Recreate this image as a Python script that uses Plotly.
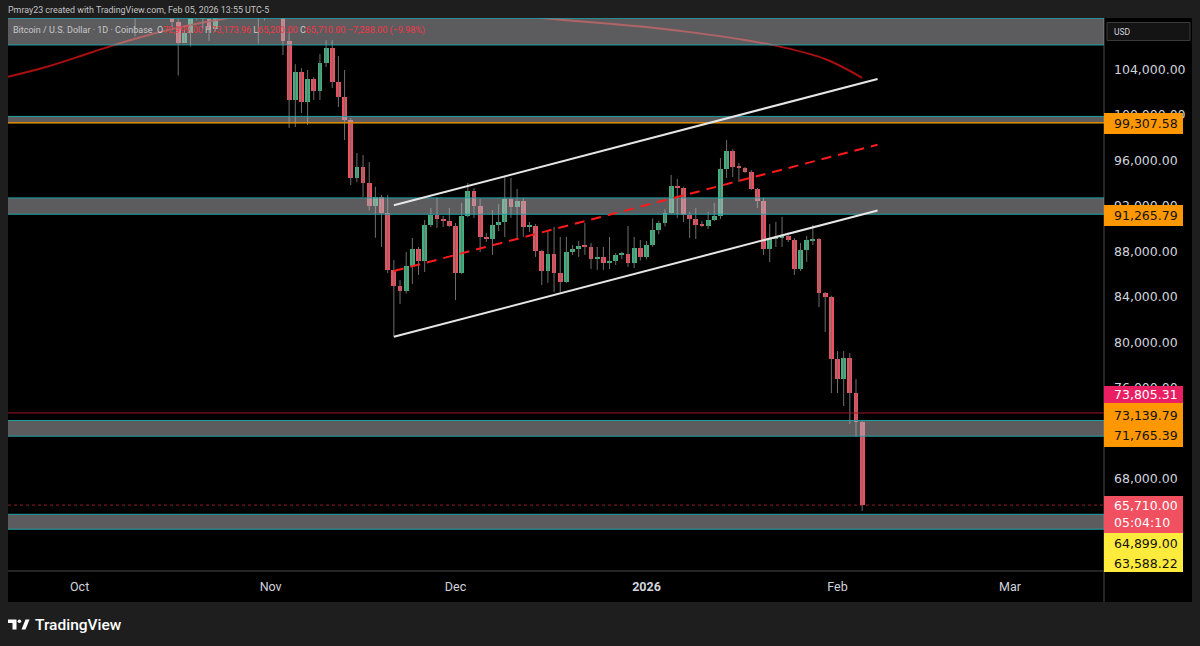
import plotly.graph_objects as go
import pandas as pd

# ---------------- data ----------------
start_date = "2025-10-10"
end_date = "2026-02-05"

opens = [121700, 112800, 110700, 115100, 115300, 113000, 110800, 108150, 106350, 107150, 108650, 110550, 108450, 107550, 110050, 111000, 111600, 114500, 114100, 112900, 110000, 108600,
         109600, 110100, 110600, 106500, 101300, 103790, 101150, 103150, 102090, 104550, 105870, 102880, 101560, 99540, 94450, 95410, 94010, 91990, 92780, 91370, 86360, 84950, 84510, 86720, 88210, 87160, 90320, 91200, 90850, 90670,
         90230, 86100, 91110, 93310, 91990, 89270, 89090, 90320, 90590, 92610, 91900, 92430, 90150, 90230, 88030, 86280, 87770, 86100, 85310, 87950, 88210, 88470, 88390, 87330, 87510, 86980, 87160, 87690, 87790, 86980, 88300,
         87550, 88600, 89900, 90500, 91400, 93760, 93590, 91220, 90850, 90410, 90230, 90760, 91110, 95240, 96820, 95500, 95330, 94980, 93490, 92430, 88210, 89170, 89260, 89350, 89000, 86450, 88120, 89000, 89090, 84340, 83990,
         78540, 76780, 78630, 75550, 72999]
highs = [122500, 113400, 115900, 116000, 115500, 113600, 111700, 109200, 107500, 109400, 111700, 114000, 109000, 111000, 112000, 111900, 115000, 116300, 116100, 113600, 111600, 110000,
         110500, 111200, 110800, 107300, 104450, 104100, 103940, 103320, 105340, 106570, 106570, 105170, 103940, 99710, 96640, 96470, 95850, 93680, 92960, 92960, 87240, 85480, 87950, 89180, 88390, 90760, 91810, 92780, 91110, 91810,
         90500, 92250, 94010, 93570, 92600, 89600, 91640, 92170, 94540, 94450, 93480, 92690, 90590, 90410, 88150, 89800, 90150, 89270, 89270, 88560, 88910, 90500, 88740, 88390, 88390, 89270, 87860, 87950, 90230, 89270, 89000,
         88900, 90900, 90700, 91700, 94720, 94370, 93680, 91480, 91810, 90670, 91480, 92250, 96200, 97790, 96990, 95760, 95410, 95150, 93570, 92690, 90410, 90590, 91040, 89650, 89170, 88740, 89350, 90320, 89170, 84430, 84100,
         79240, 79240, 79060, 76780, 73173.96]
lows = [106900, 109600, 109800, 113800, 110000, 110200, 107700, 103450, 106300, 106000, 108300, 107600, 106500, 107300, 109700, 110600, 111300, 113900, 112200, 109900, 106250, 108300,
        109400, 109600, 105250, 98850, 98930, 100160, 99100, 101300, 101300, 104200, 102360, 100690, 97790, 93830, 94100, 92780, 91600, 89200, 88400, 86100, 80500, 83370, 84300, 85140, 85930, 86190, 90140, 90060, 90150, 90150,
        83730, 86000, 91020, 90940, 87950, 88830, 87690, 89800, 89270, 90940, 89180, 89270, 89710, 87510, 85050, 85230, 84420, 84420, 85230, 87680, 87510, 87690, 86450, 86370, 86370, 86450, 86800, 87330, 86630, 86540, 87200,
        87300, 88400, 89500, 90200, 91300, 90940, 90590, 89180, 89090, 90150, 89970, 90670, 90850, 94450, 94540, 94100, 94890, 93400, 91810, 87690, 87070, 88390, 88390, 88830, 85930, 86280, 87070, 88560, 83110, 80920, 75550,
        75550, 74410, 72820, 71680, 65200]
closes = [112800, 110700, 115100, 115300, 113000, 110800, 108150, 106350, 107150, 108650, 110550, 108450, 107550, 110050, 111000, 111600, 114500, 114100, 112900, 110000, 108600, 109600,
          110100, 110600, 106500, 101300, 103790, 101150, 103150, 102090, 104550, 105870, 102880, 101560, 99540, 94450, 95410, 94010, 91990, 92780, 91370, 86360, 84950, 84510, 86720, 88210, 87160, 90320, 91200, 90850, 90670, 90230,
          86100, 91110, 93310, 91990, 89270, 89090, 90320, 90590, 92610, 91900, 92430, 90150, 90230, 88030, 86280, 87770, 86100, 85310, 87950, 88210, 88470, 88390, 87330, 87510, 86980, 87160, 87690, 87790, 86980, 88300, 87550,
          88600, 89900, 90500, 91400, 93760, 93590, 91220, 90850, 90320, 90230, 90760, 91110, 95240, 96820, 95410, 95330, 94980, 93490, 92430, 88210, 89170, 89260, 89350, 89000, 86450, 88120, 89000, 89090, 84340, 83990, 78540,
          76780, 78630, 75550, 72999, 65710]
change_text = "\u22127,288.00 (\u22129.98%)"

# 200-day moving average
ma_dates = ["2025-09-19", "2025-09-26", "2025-10-03", "2025-10-10", "2025-10-17", "2025-10-24", "2025-10-31",
            "2025-11-07", "2025-11-14", "2025-11-21", "2025-11-28", "2025-12-05", "2025-12-12", "2025-12-19",
            "2025-12-26", "2026-01-02", "2026-01-09", "2026-01-16", "2026-01-23", "2026-01-30", "2026-02-05"]
ma_values = [103300, 104270, 105500, 106690, 107660, 108400, 108950, 109250, 109400, 109350, 109200, 108950,
             108650, 108320, 108000, 107650, 107200, 106650, 105950, 104900, 103250]

# channel drawing anchors
chan_dates = ["2025-11-21", "2026-02-07 12:00"]
chan_upper = [92050, 103150]
chan_mid = [86275, 97375]
chan_lower = [80500, 91600]

# horizontal zones (low, high)
zone_low = [106140, 99307.58, 91265.79, 71765.39, 63588.22]
zone_high = [108480, 99860, 92700, 73139.79, 64899.00]
orange_level = 99307.58
crimson_level = 73805.31
last_price = 65710.00
countdown = "05:04:10"

ytick_vals = [68000, 76000, 80000, 84000, 88000, 92000, 96000, 100000, 104000]
month_ticks = ["2025-10-01", "2025-11-01", "2025-12-01", "2026-01-01", "2026-02-01", "2026-03-01"]
month_text = ["Oct", "Nov", "Dec", "<b>2026</b>", "Feb", "Mar"]

# ---------------- layout helpers ----------------
W, H = 1200, 646
ML, MR, MT, MB = 8, 96, 18, 75
PW, PH = W - ML - MR, H - MT - MB
BOTTOM = H - MB


def xp(px):
    return (px - ML) / PW


def yp(py):
    return (BOTTOM - py) / PH


UP = "#3fb27f"
DOWN = "#ef5060"
WICK = "#6e6e6e"
TEAL = "#20a0a4"
ORANGE = "#ff9800"
PINK = "#e91e63"
YELLOW = "#ffeb3b"
LBLRED = "#f0505f"
FONT = "Roboto"
AXFONT = "DejaVu Sans"

dates = pd.date_range(start_date, end_date, freq="D")

fig = go.Figure()

# moving average
fig.add_trace(go.Scatter(x=ma_dates, y=ma_values, mode="lines",
                         line=dict(color="#a8100f", width=2, shape="spline"), hoverinfo="skip"))

# wicks
wx, wy = [], []
for d, h, l in zip(dates, highs, lows):
    wx += [d, d, None]
    wy += [l, h, None]
fig.add_trace(go.Scatter(x=wx, y=wy, mode="lines", line=dict(color=WICK, width=1), hoverinfo="skip"))

# bodies
base = [min(o, c) for o, c in zip(opens, closes)]
height = [max(abs(c - o), 90) for o, c in zip(opens, closes)]
cols = [UP if c >= o else DOWN for o, c in zip(opens, closes)]
fig.add_trace(go.Bar(x=dates, y=height, base=base, marker=dict(color=cols, line=dict(width=0)),
                     width=0.78 * 86400000, hoverinfo="skip"))

shapes = []
# panel backgrounds outside plot
shapes.append(dict(type="rect", xref="paper", yref="paper", x0=1, x1=xp(1192), y0=yp(602), y1=1,
                   fillcolor="#000000", line=dict(width=0), layer="below"))
shapes.append(dict(type="rect", xref="paper", yref="paper", x0=0, x1=1, y0=yp(602), y1=0,
                   fillcolor="#000000", line=dict(width=0), layer="below"))
shapes.append(dict(type="line", xref="paper", yref="paper", x0=1, x1=1, y0=yp(602), y1=1,
                   line=dict(color="#4a4a4a", width=1)))
shapes.append(dict(type="line", xref="paper", yref="paper", x0=0, x1=1, y0=0, y1=0,
                   line=dict(color="#4a4a4a", width=1)))

# zones
for lo, hi in zip(zone_low, zone_high):
    shapes.append(dict(type="rect", xref="paper", yref="y", x0=0, x1=1, y0=lo, y1=hi,
                       fillcolor="rgba(184,184,190,0.5)", line=dict(width=0), layer="above"))
    for v in (lo, hi):
        shapes.append(dict(type="line", xref="paper", yref="y", x0=0, x1=1, y0=v, y1=v,
                           line=dict(color=TEAL, width=1), layer="above"))
shapes.append(dict(type="line", xref="paper", yref="y", x0=0, x1=1, y0=orange_level, y1=orange_level,
                   line=dict(color="#e08600", width=1.5), layer="above"))
shapes.append(dict(type="line", xref="paper", yref="y", x0=0, x1=1, y0=crimson_level, y1=crimson_level,
                   line=dict(color="#a3172f", width=1), layer="above"))
shapes.append(dict(type="line", xref="paper", yref="y", x0=0, x1=1, y0=last_price, y1=last_price,
                   line=dict(color="rgba(242,54,69,0.6)", width=1, dash="dot"), layer="above"))

# channel
for ys, col, dash in ((chan_upper, "#e6e6e6", "solid"), (chan_lower, "#e6e6e6", "solid"),
                      (chan_mid, "#ff1a1a", "10px,7px")):
    shapes.append(dict(type="line", xref="x", yref="y", x0=chan_dates[0], x1=chan_dates[1],
                       y0=ys[0], y1=ys[1], line=dict(color=col, width=2, dash=dash), layer="above"))

# price label boxes on the right axis
boxes = [(113, 134, ORANGE), (205, 226, ORANGE), (386, 403, PINK), (403, 447, ORANGE),
         (496, 533, LBLRED), (533, 572, YELLOW)]
for top, bot, fc in boxes:
    shapes.append(dict(type="rect", xref="paper", yref="paper", x0=xp(1104), x1=xp(1183),
                       y0=yp(bot), y1=yp(top), fillcolor=fc, line=dict(width=0), layer="above"))
# USD box
shapes.append(dict(type="rect", xref="paper", yref="paper", x0=xp(1107), x1=xp(1190), y0=yp(40.5), y1=yp(22.5),
                   fillcolor="#141414", line=dict(color="#3a3a3a", width=1), layer="above"))


# TradingView logo
def ppath(pts):
    s = "M " + " L ".join(f"{xp(a):.5f},{yp(b):.5f}" for a, b in pts) + " Z"
    return s


shapes.append(dict(type="path", xref="paper", yref="paper",
                   path=ppath([(8, 619.5), (16.5, 619.5), (16.5, 629.5), (12.5, 629.5), (12.5, 623), (8, 623)]),
                   fillcolor="#ffffff", line=dict(width=0)))
shapes.append(dict(type="circle", xref="paper", yref="paper", x0=xp(17.6), x1=xp(21.2), y0=yp(623.1), y1=yp(619.5),
                   fillcolor="#ffffff", line=dict(width=0)))
shapes.append(dict(type="path", xref="paper", yref="paper",
                   path=ppath([(21.5, 629.5), (25.5, 619.5), (29.5, 619.5), (25.5, 629.5)]),
                   fillcolor="#ffffff", line=dict(width=0)))

annotations = []
label_lines = [
    (f"{orange_level:,.2f}", 123.7, "#131313"),
    (f"{zone_low[2]:,.2f}", 215.5, "#131313"),
    (f"{crimson_level:,.2f}", 394.5, "#ffffff"),
    (f"{zone_high[3]:,.2f}", 415.7, "#131313"),
    (f"{zone_low[3]:,.2f}", 435.7, "#131313"),
    (f"{last_price:,.2f}", 505.0, "#ffffff"),
    (countdown, 522.3, "#ffffff"),
    (f"{zone_high[4]:,.2f}", 543.3, "#131313"),
    (f"{zone_low[4]:,.2f}", 563.3, "#131313"),
]
for txt, cy, fc in label_lines:
    annotations.append(dict(text=txt, xref="paper", yref="paper", x=xp(1112), y=yp(cy),
                            xanchor="left", yanchor="middle", showarrow=False,
                            font=dict(family=AXFONT, size=12.5, color=fc)))
annotations.append(dict(text="USD", xref="paper", yref="paper", x=xp(1112), y=yp(31.5), xanchor="left",
                        yanchor="middle", showarrow=False, font=dict(family=FONT, size=8.5, color="#d1d4dc")))

# header texts
annotations.append(dict(text="Pmray23 created with TradingView.com, Feb 05, 2026 13:55 UTC-5",
                        xref="paper", yref="paper", x=xp(6), y=yp(10), xanchor="left", yanchor="middle",
                        showarrow=False, font=dict(family=FONT, size=8.9, color="#c4c4c4")))
G = "#c8c8c8"
R = "#f23645"
legend = (f'<span style="color:{G}">Bitcoin / U.S. Dollar · 1D · Coinbase</span>  '
          f'<span style="color:{G}">O</span><span style="color:{R}">{opens[-1]:,.2f}</span> '
          f'<span style="color:{G}">H</span><span style="color:{R}">{highs[-1]:,.2f}</span> '
          f'<span style="color:{G}">L</span><span style="color:{R}">{lows[-1]:,.2f}</span> '
          f'<span style="color:{G}">C</span><span style="color:{R}">{closes[-1]:,.2f}</span> '
          f'<span style="color:{R}">{change_text}</span>')
annotations.append(dict(text=legend, xref="paper", yref="paper", x=xp(11), y=yp(31), xanchor="left",
                        yanchor="middle", showarrow=False, font=dict(family=FONT, size=9, color=G)))

annotations.append(dict(text="TradingView", xref="paper", yref="paper", x=xp(33), y=yp(624.5), xanchor="left",
                        yanchor="middle", showarrow=False,
                        font=dict(family=FONT, size=15.5, color="#ffffff", weight=500)))

fig.update_layout(
    width=W, height=H, autosize=False,
    margin=dict(l=ML, r=MR, t=MT, b=MB, pad=0),
    paper_bgcolor="#1e1e1e", plot_bgcolor="#000000",
    showlegend=False, shapes=shapes, annotations=annotations,
    bargap=0,
    xaxis=dict(type="date", range=["2025-09-19 09:00", "2026-03-16 06:00"],
               tickvals=month_ticks, ticktext=month_text, showgrid=False, zeroline=False,
               ticks="", showline=False, ticklabelstandoff=6,
               tickfont=dict(family=FONT, size=12.5, color="#d1d4dc")),
    yaxis=dict(range=[59918, 108507], side="right", tickvals=ytick_vals,
               ticktext=[f"{v:,.2f}" for v in ytick_vals], showgrid=False, zeroline=False,
               ticks="", showline=False, ticklabelstandoff=9,
               tickfont=dict(family=AXFONT, size=12.5, color="#d1d4dc")),
)

fig.write_html("out.html", post_script="document.body.style.margin='0';")
